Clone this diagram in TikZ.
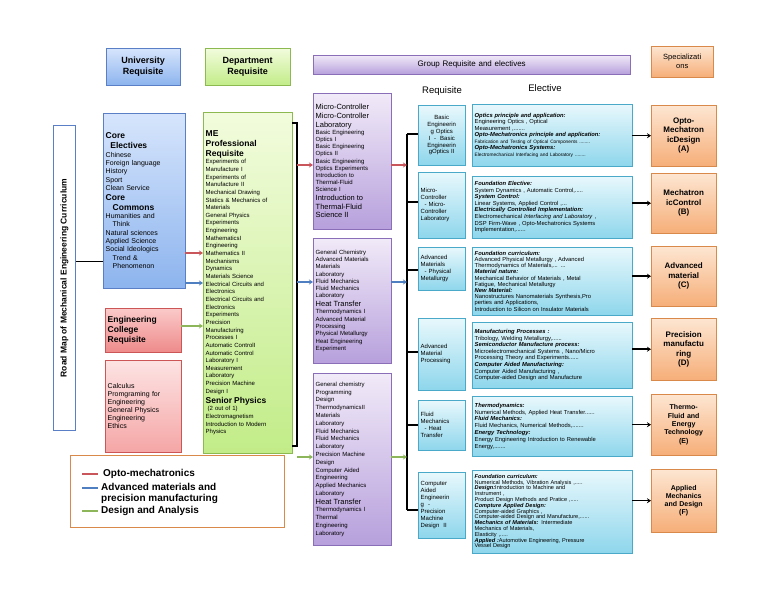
\documentclass[tikz,border=0pt]{standalone}
\usepackage{fontspec}
\setmainfont{Liberation Sans}
\usetikzlibrary{arrows.meta}
\definecolor{bT}{HTML}{D6E5FC}\definecolor{bB}{HTML}{8DB4EE}\definecolor{bD}{HTML}{5A7FC7}
\definecolor{gT}{HTML}{F2FCDD}\definecolor{gB}{HTML}{C2EC88}\definecolor{gD}{HTML}{8CBA50}
\definecolor{pT}{HTML}{F1EAF8}\definecolor{pB}{HTML}{B7A0DC}\definecolor{pD}{HTML}{8A6FB8}
\definecolor{cT}{HTML}{E8F8FC}\definecolor{cB}{HTML}{8ED6EC}\definecolor{cD}{HTML}{4AA8C8}
\definecolor{oT}{HTML}{FDE6D2}\definecolor{oB}{HTML}{F6AE78}\definecolor{oD}{HTML}{D98A4A}
\definecolor{rT}{HTML}{FBCACA}\definecolor{rB}{HTML}{EE8A8A}\definecolor{rD}{HTML}{CC5555}
\definecolor{lT}{HTML}{FDE3E3}\definecolor{lB}{HTML}{F5A6A6}
\definecolor{arR}{HTML}{C9565A}\definecolor{arB}{HTML}{4F7FC0}\definecolor{arG}{HTML}{8DB55A}
\newcommand{\hb}[1]{\textbf{\textit{#1}}}
\newcommand{\bigh}[1]{{\fontsize{8.5}{10}\selectfont\bfseries #1\par}}
\newcommand{\midh}[1]{{\fontsize{7.5}{8.6}\selectfont #1\par}}
\begin{document}
\begin{tikzpicture}[x=1pt,y=-1pt,
 bx/.style={rectangle,anchor=north west,inner sep=2.5pt,align=left,font=\fontsize{6}{6.9}\selectfont},
 blu/.style={bx,draw=bD,top color=bT,bottom color=bB},
 grn/.style={bx,draw=gD,top color=gT,bottom color=gB},
 pur/.style={bx,draw=pD,top color=pT,bottom color=pB},
 cya/.style={bx,draw=cD,top color=cT,bottom color=cB},
 org/.style={bx,draw=oD,top color=oT,bottom color=oB,align=center,font=\fontsize{8}{9.5}\selectfont\bfseries},
 red/.style={bx,draw=rD,top color=rT,bottom color=rB},
 lrd/.style={bx,draw=rD,top color=lT,bottom color=lB},
 sz/.style 2 args={minimum width=#1pt,minimum height=#2pt,text width=#1pt-5pt},
 ca/.style={-{Stealth[length=4pt,width=5pt]},line width=2.2pt,#1},
 ka/.style={-{Stealth[length=4pt,width=5pt]},line width=1.4pt,black}]
\useasboundingbox (0,0) rectangle (768,593);
\fill[white] (0,0) rectangle (768,593);
% title
\node[draw=bD,line width=1pt,minimum width=22pt,minimum height=305pt,anchor=north west,inner sep=0] (title) at (53,125) {};
\node[rotate=90,font=\fontsize{8.5}{10}\selectfont\bfseries] at (title.center) {Road Map of Mechanical Engineering Curriculum};
% headers
\node[blu,sz={74}{37},align=center,font=\fontsize{9}{11}\selectfont\bfseries] (uni) at (106,48) {University\\Requisite};
\node[grn,sz={85}{37},align=center,font=\fontsize{9}{11}\selectfont\bfseries] (dep) at (205,48) {Department\\Requisite};
\node[pur,sz={317}{19},align=center,font=\fontsize{8}{9}\selectfont] (grp) at (313,55) {Group Requisite and electives};
\node[org,sz={62}{31},font=\fontsize{7.5}{9}\selectfont] (spc) at (651,46) {Specializati\\ons};
\node[font=\fontsize{9.5}{11}\selectfont] (hreq) at (442,91) {Requisite};
\node[font=\fontsize{9.5}{11}\selectfont] (hel) at (545,88) {Elective};
% left column
\node[blu,sz={82}{175},font=\fontsize{7}{8.3}\selectfont] (core) at (103,113) {\bigh{Core\\\ \ Electives}Chinese\\Foreign language\\History\\Sport\\Clean Service\par\bigh{Core\\\ \ \ Commons}Humanities and\\\ \ \ Think\\Natural sciences\\Applied Science\\Social Ideologics\\\ \ \ Trend \& \\\ \ \ Phenomenon};
\draw[line width=1pt] (title.east |- 0,262) -- (core.west |- 0,262);
\node[red,sz={76}{44},font=\fontsize{8.5}{10}\selectfont\bfseries] (eng) at (105,308) {Engineering\\College\\Requisite};
\node[lrd,sz={76}{92},font=\fontsize{7}{8}\selectfont] (calc) at (105,360) {Calculus\\Promgraming for\\Engineering\\General Physics\\Engineering\\Ethics};
% ME
\node[grn,sz={89}{341},font=\fontsize{6}{7.65}\selectfont] (me) at (203,112) {\bigh{ME\\Professional\\Requisite}Experiments of\\Manufacture I\\Experiments of\\Manufacture II\\Mechanical Drawing\\Statics \& Mechanics of\\Materials\\General Physics\\Experiments\\Engineering\\MathematicsI\\Engineering\\Mathematics II\\Mechanisms\\Dynamics\\Materials Science\\Electrical Circuits and\\Electronics\\Electrical Circuits and\\Electronics\\Experiments\\Precision\\Manufacturing\\Processes I\\Automatic ControlI\\Automatic Control\\Laboratory I\\Measurement\\Laboratory\\Precision Machine\\Design I\par\bigh{Senior Physics}\ (2 out of 1)\\Electromagnetism\\Introduction to Modern\\Physics};
% left arrows
\draw[ca=arR] (core.east |- 0,253) -- (me.west |- 0,253);
\draw[ca=arB] (core.east |- 0,283) -- (me.west |- 0,283);
\draw[ca=arG] (eng.east |- 0,326) -- (me.west |- 0,326);
% purple
\node[pur,sz={78}{136},font=\fontsize{6}{7.2}\selectfont] (p1) at (313,93) {\midh{Micro-Controller\\Micro-Controller\\Laboratory}Basic Engineering\\Optics I\\Basic Engineering\\Optics II\\Basic Engineering\\Optics Experiments\\Introduction to\\Thermal-Fluid\\Science I\par\midh{Introduction to\\Thermal-Fluid\\Science II}};
\node[pur,sz={78}{125},font=\fontsize{6}{7.3}\selectfont] (p2) at (313,238) {General Chemistry\\Advanced Materials\\Materials\\Laboratory\\Fluid Mechanics\\Fluid Mechanics\\Laboratory\par\midh{Heat Transfer}Thermodynamics I\\Advanced Material\\Processing\\Physical Metallurgy\\Heat Engineering\\Experiment};
\node[pur,sz={78}{172},font=\fontsize{6}{7.8}\selectfont] (p3) at (313,373) {General chemistry\\Programming\\Design\\ThermodynamicsII\\Materials\\Laboratory\\Fluid Mechanics\\Fluid Mechanics\\Laboratory\\Precision Machine\\Design\\Computer Aided\\Engineering\\Applied Mechanics\\Laboratory\par\midh{Heat Transfer}Thermodynamics I\\Thermal\\Engineering\\Laboratory};
% ME bracket
\coordinate (mb1) at (297,123); \coordinate (mb2) at (297,446);
\draw[line width=1.4pt] (me.east |- mb1) -- (mb1) -- (mb2) -- (me.east |- mb2);
\draw[ca=arR] (mb1 |- 0,165) -- (p1.west |- 0,165);
\draw[ca=arB] (mb1 |- 0,282) -- (p2.west |- 0,282);
\draw[ca=arG] (mb1 |- 0,457) -- (p3.west |- 0,457);
% requisite boxes
\node[cya,sz={47}{60},align=center] (r1) at (418,105) {Basic\\Engineerin\\g Optics\\I \ -\ \ Basic\\Engineerin\\gOptics II};
\node[cya,sz={47}{66}] (r2) at (418,172) {Micro-\\Controller\\\ \ -\ Micro-\\Controller\\Laboratory};
\node[cya,sz={47}{43}] (r3) at (418,247) {Advanced\\Materials\\\ \ - Physical\\Metallurgy};
\node[cya,sz={47}{72}] (r4) at (418,318) {Advanced\\Material\\Processing};
\node[cya,sz={47}{50}] (r5) at (418,400) {Fluid\\Mechanics\\\ \ - Heat\\Transfer};
\node[cya,sz={47}{66}] (r6) at (418,472) {Computer\\Aided\\Engineerin\\g \ -\\Precision\\Machine\\Design \ II};
% right bracket
\coordinate (rb1) at (407,134); \coordinate (rb2) at (407,510);
\draw[line width=1.4pt] (rb1) -- (rb2);
\foreach \r/\y in {r1/134,r2/202,r3/270,r4/352,r5/425,r6/510}{\draw[line width=1.4pt] (rb1 |- 0,\y) -- (\r.west |- 0,\y);}
\draw[ca=arR] (p1.east |- 0,165) -- (rb1 |- 0,165);
\draw[ca=arB] (p2.east |- 0,282) -- (rb1 |- 0,282);
\draw[ca=arG] (p3.east |- 0,457) -- (rb1 |- 0,457);
% electives
\node[cya,sz={160}{62},font=\fontsize{5.8}{6.5}\selectfont] (e1) at (472,104) {\hb{Optics principle and application:}\\Engineering Optics , Optical\\Measurement ,.......\\\hb{Opto-Mechatronics principle and application:}\\{\fontsize{4.8}{6}\selectfont Fabrication and Testing of Optical Components ........}\\\hb{Opto-Mechatronics Systems:}\\{\fontsize{4.8}{6}\selectfont Electromechanical Interfacing and Laboratory ........}};
\node[cya,sz={160}{62},font=\fontsize{5.8}{6.6}\selectfont] (e2) at (472,176) {\hb{Foundation Elective:}\\System Dynamics , Automatic Control,.....\\\hb{System Control:}\\Linear Systems, Applied Control ,...\\\hb{Electrically Controlled Implementation:}\\Electromechanical \textit{Interfacing and Laboratory} ,\\DSP Firm-Wave , Opto-Mechatronics Systems\\Implementation,......};
\node[cya,sz={160}{68},font=\fontsize{5.8}{6.2}\selectfont] (e3) at (472,247) {\hb{Foundation curriculum:}\\Advanced Physical Metallurgy , Advanced\\Thermodynamics of Materials,... ...\\\hb{Material nature:}\\Mechanical Behavior of Materials , Metal\\Fatigue, Mechanical Metallurgy\\\hb{New Material:}\\Nanostructures Nanomaterials Synthesis,Pro\\perties and Applications,\\Introduction to Silicon on Insulator Materials};
\node[cya,sz={160}{66},font=\fontsize{5.8}{6.6}\selectfont] (e4) at (472,322) {\hb{Manufacturing Processes :}\\Tribology, Welding Metallurgy,......\\\hb{Semiconductor Manufacture process:}\\Microelectromechanical Systems , Nano/Micro\\Processing Theory and Experiments......\\\hb{Computer Aided Manufacturing:}\\Computer Aided Manufacturing ,\\Computer-aided Design and Manufacture};
\node[cya,sz={160}{60},font=\fontsize{5.8}{6.8}\selectfont] (e5) at (472,396) {\hb{Thermodynamics:}\\Numerical Methods, Applied Heat Transfer......\\\hb{Fluid Mechanics:}\\Fluid Mechanics, Numerical Methods,.......\\\hb{Energy Technology:}\\Energy Engineering Introduction to Renewable\\Energy,.......};
\node[cya,sz={160}{83},font=\fontsize{5.6}{5.8}\selectfont] (e6) at (472,470) {\hb{Foundation curriculum:}\\Numerical Methods, Vibration Analysis ,.....\\\hb{Design:}Introduction to Machine and\\Instrument ,\\Product Design Methods and Pratice ,.....\\\hb{Compture Applied Design:}\\Computer-aided Graphics ,\\Computer-aided Design and Manufacture,......\\\hb{Mechanics of Materials:} Intermediate\\Mechanics of Materials,\\Elasticity ,.....\\\hb{Applied :}Automotive Engineering, Pressure\\Vessel Design};
% specializations
\node[org,sz={65}{61}] (sA) at (651,105) {Opto-\\Mechatron\\icDesign\\(A)};
\node[org,sz={65}{60}] (sB) at (651,173) {Mechatron\\icControl\\(B)};
\node[org,sz={65}{60}] (sC) at (651,246) {Advanced\\material\\(C)};
\node[org,sz={65}{62}] (sD) at (651,318) {Precision\\manufactu\\ring\\(D)};
\node[org,sz={65}{61},font=\fontsize{7}{8.3}\selectfont\bfseries] (sE) at (651,394) {Thermo-\\Fluid and\\Energy\\Technology\\(E)};
\node[org,sz={65}{63},font=\fontsize{7}{8.3}\selectfont\bfseries] (sF) at (651,469) {Applied\\Mechanics\\and Design\\(F)};
\foreach \e/\s in {e1/sA,e2/sB,e3/sC,e4/sD,e5/sE,e6/sF}{\draw[ka] (\e.east |- \s.west) -- (\s.west);}
% legend
\node[draw=oD,line width=1pt,minimum width=214pt,minimum height=72pt,anchor=north west] (leg) at (70,455) {};
\coordinate (l1) at (82,474); \coordinate (l2) at (82,488); \coordinate (l3) at (82,511);
\draw[line width=2.2pt,arR] (l1) -- ++(16,0) coordinate (l1e);
\draw[line width=2.2pt,arB] (l2) -- ++(16,0) coordinate (l2e);
\draw[line width=2.2pt,arG] (l3) -- ++(16,0) coordinate (l3e);
\node[anchor=west,font=\fontsize{10}{10}\selectfont\bfseries,inner sep=0] (t1) at ([xshift=5pt]l1e) {Opto-mechatronics};
\node[anchor=north west,align=left,font=\fontsize{10}{11}\selectfont\bfseries,inner sep=0] (t2) at ([xshift=3pt,yshift=5pt]l2e) {Advanced materials and\\precision manufacturing};
\node[anchor=west,font=\fontsize{10}{10}\selectfont\bfseries,inner sep=0] (t3) at ([xshift=3pt]l3e) {Design and Analysis};
\end{tikzpicture}
\end{document}
